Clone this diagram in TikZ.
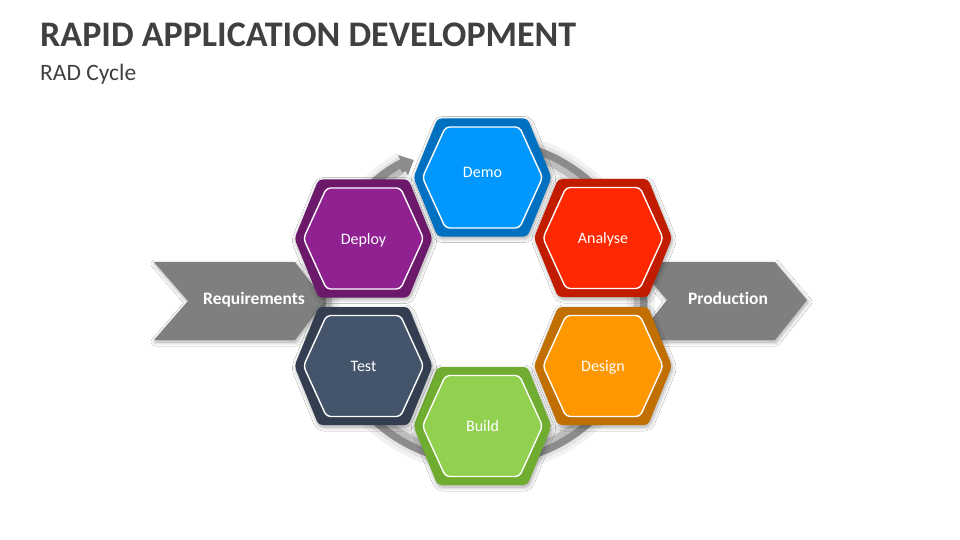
\documentclass[tikz,border=0pt]{standalone}
\usepackage{fontspec}
\setmainfont{Carlito}[Ligatures=CommonOff]
\usetikzlibrary{arrows.meta,shadows.blur}
\definecolor{titlegray}{HTML}{404040}
\definecolor{chevgray}{HTML}{7F7F7F}
\definecolor{demoO}{HTML}{0070C0}\definecolor{demoI}{HTML}{0097FF}
\definecolor{anaO}{HTML}{C21C00}\definecolor{anaI}{HTML}{FF2800}
\definecolor{desO}{HTML}{C06F00}\definecolor{desI}{HTML}{FF9700}
\definecolor{bldO}{HTML}{6FAC2F}\definecolor{bldI}{HTML}{92D050}
\definecolor{tstO}{HTML}{333F50}\definecolor{tstI}{HTML}{44546A}
\definecolor{depO}{HTML}{6C186B}\definecolor{depI}{HTML}{8F2191}
\definecolor{ringdark}{HTML}{8C8C8C}
\definecolor{ringlight}{HTML}{BDBDBD}
\tikzset{
  hexlabel/.style={text=white, font=\fontsize{16}{19}\selectfont, inner sep=0pt, anchor=base},
  chevlabel/.style={text=white, font=\fontsize{17.5}{20}\selectfont\bfseries, inner sep=0pt},
  softshadow/.style={blur shadow={shadow blur steps=8, shadow xshift=1pt, shadow yshift=-2pt, shadow opacity=35, shadow blur radius=4pt}},
  chevshape/.style={fill=chevgray, softshadow},
}
% #1,#2 centre; #3 outer colour; #4 inner colour; #5 label; #6 name; #7 baseline offset
\newcommand\myhexa[7]{%
  \begin{scope}[shift={(#1,#2)}]
    \fill[#3, rounded corners=4pt, softshadow] (0,-59)--(45,-59)--(69,0)--(45,59)--(-45,59)--(-69,0)--(-45,-59)--cycle;
    \draw[white, line width=1.4pt, fill=#4, rounded corners=4pt] (0,-50.5)--(37,-50.5)--(60,0)--(37,50.5)--(-37,50.5)--(-60,0)--(-37,-50.5)--cycle;
    \node[hexlabel] (#6) at (0,#7) {#5};
  \end{scope}}
\begin{document}
\begin{tikzpicture}[x=1pt,y=-1pt]
\useasboundingbox[fill=white] (0,0) rectangle (960,540);
% title
\node[anchor=base west, inner sep=0pt, text=titlegray, font=\fontsize{36}{42}\selectfont\bfseries] (title) at (40,47) {RAPID APPLICATION DEVELOPMENT};
\node[anchor=base west, inner sep=0pt, text=titlegray, font=\fontsize{23.5}{28}\selectfont] (subtitle) at (40,81) {RAD Cycle};
% ring
\coordinate (ringc) at (483,302);
\draw[black, opacity=0.05, line width=28pt] (ringc) ++(-86:158) arc[start angle=-86, end angle=240, radius=158];
\draw[black, opacity=0.06, line width=20pt] (ringc) ++(-86:158) arc[start angle=-86, end angle=240, radius=158];
\draw[ringdark, line width=13pt, -{Triangle[length=12pt,width=22pt]}] (ringc) ++(-86:158) arc[start angle=-86, end angle=244, radius=158];
\draw[ringlight, line width=6pt] (ringc) ++(-86:154) arc[start angle=-86, end angle=238, radius=154];
% chevrons
\fill[chevshape] (154,262)--(295,262)--(325,301)--(295,340)--(154,340)--(188,301)--cycle;
\fill[chevshape] (635,262)--(775,262)--(807,300)--(775,340)--(635,340)--(667,300)--cycle;
\node[chevlabel] (req) at (254,300) {Requirements};
\node[chevlabel] (prod) at (728,298) {Production};
% hexagons
\myhexa{482.5}{177.5}{demoO}{demoI}{Demo}{demo}{0.5}
\myhexa{603}{238}{anaO}{anaI}{Analyse}{analyse}{5.5}
\myhexa{603}{366}{desO}{desI}{Design}{design}{5.5}
\myhexa{482.5}{426}{bldO}{bldI}{Build}{build}{5.5}
\myhexa{363.5}{366}{tstO}{tstI}{Test}{test}{5.5}
\myhexa{363.5}{238.5}{depO}{depI}{Deploy}{deploy}{5.5}
\end{tikzpicture}
\end{document}
